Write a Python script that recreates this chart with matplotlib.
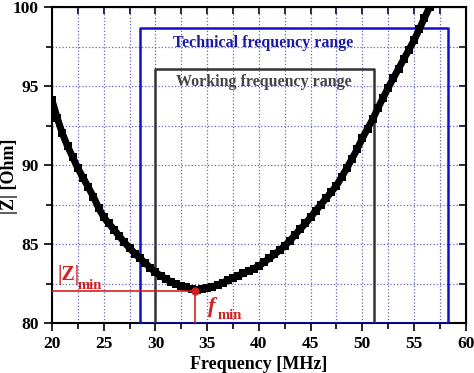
import numpy as np
import matplotlib
matplotlib.use("Agg")
import matplotlib.pyplot as plt
from matplotlib.ticker import MultipleLocator, NullFormatter

# --- data ---
freq = [20.0, 20.5, 21.0, 21.5, 22.0, 22.5, 23.0, 23.5, 24.0, 24.5,
        25.0, 25.5, 26.0, 26.5, 27.0, 27.5, 28.0, 28.5, 29.0, 29.5,
        30.0, 30.5, 31.0, 31.5, 32.0, 32.5, 33.0, 33.5, 34.0, 34.5,
        35.0, 35.5, 36.0, 36.5, 37.0, 37.5, 38.0, 38.5, 39.0, 39.5,
        40.0, 40.5, 41.0, 41.5, 42.0, 42.5, 43.0, 43.5, 44.0, 44.5,
        45.0, 45.5, 46.0, 46.5, 47.0, 47.5, 48.0, 48.5, 49.0, 49.5,
        50.0, 50.5, 51.0, 51.5, 52.0, 52.5, 53.0, 53.5, 54.0, 54.5,
        55.0, 55.5, 56.0, 56.5]
z_abs = [94.1, 93.0, 92.0, 91.2, 90.5, 89.8, 89.2, 88.6, 88.0, 87.3,
         86.7, 86.3, 85.9, 85.5, 85.1, 84.75, 84.4, 84.1, 83.8, 83.5,
         83.2, 83.0, 82.8, 82.6, 82.45, 82.35, 82.25, 82.15, 82.1, 82.15,
         82.2, 82.3, 82.4, 82.55, 82.7, 82.85, 83.0, 83.15, 83.3, 83.45,
         83.6, 83.85, 84.1, 84.35, 84.6, 84.9, 85.2, 85.6, 85.95, 86.3,
         86.7, 87.1, 87.5, 87.9, 88.3, 88.7, 89.25, 89.8, 90.4, 91.0,
         91.7, 92.3, 92.9, 93.6, 94.25, 94.9, 95.5, 96.1, 96.7, 97.3,
         97.9, 98.6, 99.3, 100.0]

f_min = 33.85
z_min = 82.0

# frequency ranges: (f_low, f_high, top)
technical = (28.5, 58.3, 98.7)
working = (30.0, 51.1, 96.1)

plt.rcParams['font.family'] = 'Liberation Serif'
plt.rcParams['font.weight'] = 'bold'

fig = plt.figure(figsize=(4.74, 3.73), dpi=100)
ax = fig.add_axes([0.1097, 0.134, 0.873, 0.847])

ax.set_xlim(20, 60)
ax.set_ylim(80, 100)
ax.xaxis.set_major_locator(MultipleLocator(5))
ax.xaxis.set_minor_locator(MultipleLocator(2.5))
ax.yaxis.set_major_locator(MultipleLocator(5))
ax.yaxis.set_minor_locator(MultipleLocator(2.5))

ax.grid(which='both', color='#4a4ab8', linestyle=':', linewidth=0.9, alpha=0.85)
ax.set_axisbelow(True)

# ranges
tl, th, tt = technical
ax.plot([tl, tl, th, th, tl], [80, tt, tt, 80, 80], color='#1010c8', lw=1.8, zorder=3)
wl, wh, wt = working
ax.plot([wl, wl, wh, wh], [80, wt, wt, 80], color='#333333', lw=1.8, zorder=3)

ax.text(40.4, 97.7, 'Technical frequency range', color='#1a1aa6',
        fontsize=11.5, fontweight='bold', ha='center', va='center', zorder=4)
ax.text(40.5, 95.25, 'Working frequency range', color='#444444',
        fontsize=11.5, fontweight='bold', ha='center', va='center', zorder=4)

# curve
ax.plot(freq, z_abs, color='black', lw=5, marker='s', ms=5.5,
        markeredgewidth=0, zorder=5)

# minimum annotation
red = '#d42020'
ax.plot([20, f_min], [z_min, z_min], color=red, lw=1.2, zorder=6)
ax.plot([f_min, f_min], [80, z_min], color=red, lw=1.2, zorder=6)
ax.plot([f_min], [z_min], 'o', color=red, ms=5, zorder=7)
ax.text(20.5, 83.05, '|Z|', color=red, fontsize=14.5, fontweight='bold',
        ha='left', va='center', zorder=6)
ax.text(22.5, 82.4, 'min', color=red, fontsize=10.5, fontweight='bold',
        ha='left', va='center', zorder=6)
ax.text(35.1, 81.0, 'f', color=red, fontsize=16, fontweight='bold',
        style='italic', ha='left', va='center', zorder=6)
ax.text(36.0, 80.5, 'min', color=red, fontsize=10.5, fontweight='bold',
        ha='left', va='center', zorder=6)

for s in ax.spines.values():
    s.set_linewidth(1.5)

ax.tick_params(which='both', direction='out', width=1.2, labelsize=12.5)
ax.tick_params(which='major', length=6)
ax.tick_params(which='minor', length=4)

# inward ticks on top and right
top = ax.secondary_xaxis('top')
right = ax.secondary_yaxis('right')
top.xaxis.set_major_locator(MultipleLocator(5))
top.xaxis.set_minor_locator(MultipleLocator(2.5))
right.yaxis.set_major_locator(MultipleLocator(5))
right.yaxis.set_minor_locator(MultipleLocator(2.5))
top.xaxis.set_major_formatter(NullFormatter())
right.yaxis.set_major_formatter(NullFormatter())
top.tick_params(which='both', direction='in', width=1.2, length=5)
right.tick_params(which='both', direction='in', width=1.2, length=5)

ax.set_xlabel('Frequency [MHz]', fontsize=13, fontweight='bold', labelpad=3)
ax.set_ylabel('|Z| [Ohm]', fontsize=13, fontweight='bold')
ax.yaxis.set_label_coords(-0.082, 0.465)

fig.savefig('out.png', dpi=100)
